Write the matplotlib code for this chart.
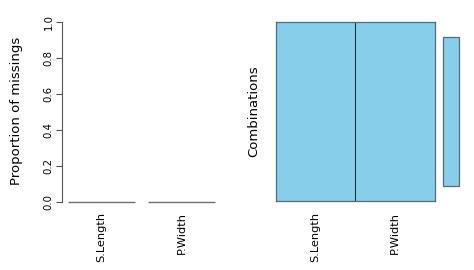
import numpy as np
import matplotlib
matplotlib.use("Agg")
import matplotlib.pyplot as plt

# aggr-style plot: missing proportions + combination pattern
variables = ["S.Length", "P.Width"]
prop_missing = [0.0, 0.0]
combo_pattern = [[0, 0]]      # 0 = observed, 1 = missing
combo_freq = [1.0]
yticks = [0.0, 0.2, 0.4, 0.6, 0.8, 1.0]

col_obs = "#87CEEB"
col_miss = "#FF0000"
edge_col = "#56697a"

plt.rcParams["font.family"] = "DejaVu Sans"
fig = plt.figure(figsize=(4.74, 2.70), dpi=100)

W, H = 474.0, 270.0
def px_axes(x0, y0, x1, y1):
    # pixel box (top-left origin) -> figure fraction
    return fig.add_axes([x0 / W, 1 - y1 / H, (x1 - x0) / W, (y1 - y0) / H])

# left: proportion of missings
ax1 = px_axes(62.1, 14.5, 221.3, 208.9)
xpos = 0.2 + np.arange(len(variables)) * 1.2 + 0.5
ax1.bar(xpos, prop_missing, width=1.0, color=col_obs, edgecolor="#707070", linewidth=1.0)
ax1.set_xlim(0.112, 2.488)
ax1.set_ylim(-0.04, 1.04)
for s in ["top", "right", "bottom"]:
    ax1.spines[s].set_visible(False)
ax1.spines["left"].set_bounds(0, 1)
ax1.spines["left"].set_color("#555555")
ax1.set_yticks(yticks)
ax1.set_yticklabels([f"{v:.1f}" for v in yticks], rotation=90, va="center", fontsize=7.3)
ax1.tick_params(axis="y", length=4.5, width=0.8, color="#555555", pad=1.5)
ax1.set_xticks(xpos)
ax1.set_xticklabels(variables, rotation=90, fontsize=8.2)
ax1.tick_params(axis="x", length=0, pad=2.5)
ax1.set_ylabel("Proportion of missings", fontsize=9.5)
ax1.yaxis.set_label_coords(-0.246, 0.504)

# right: combination pattern
ax2 = px_axes(275.7, 21.7, 435.0, 200.7)
pattern = np.array(combo_pattern)
cmap = matplotlib.colors.ListedColormap([col_obs, col_miss])
ax2.pcolormesh(pattern, cmap=cmap, vmin=0, vmax=1)
ax2.vlines(np.arange(1, len(variables)), 0, len(combo_freq), color="#1a3340", linewidth=0.8)
ax2.set_xlim(0, len(variables))
ax2.set_ylim(0, len(combo_freq))
for s in ax2.spines.values():
    s.set_color(edge_col)
    s.set_linewidth(0.9)
ax2.set_yticks([])
ax2.set_xticks(np.arange(len(variables)) + 0.5)
ax2.set_xticklabels(variables, rotation=90, fontsize=8.2)
ax2.tick_params(axis="x", length=0, pad=8.2)
ax2.set_ylabel("Combinations", fontsize=9.5)
ax2.yaxis.set_label_coords(-0.099, 0.501)

# side bar: frequency of combinations
ax3 = px_axes(443.3, 21.7, 459.0, 200.7)
ax3.barh(np.arange(len(combo_freq)), combo_freq, height=1.0, color=col_obs,
         edgecolor=edge_col, linewidth=0.9, clip_on=False)
ax3.set_xlim(0, max(combo_freq))
ax3.set_ylim(-0.6, len(combo_freq) - 0.4)
ax3.axis("off")

fig.savefig("out.png", dpi=100)
